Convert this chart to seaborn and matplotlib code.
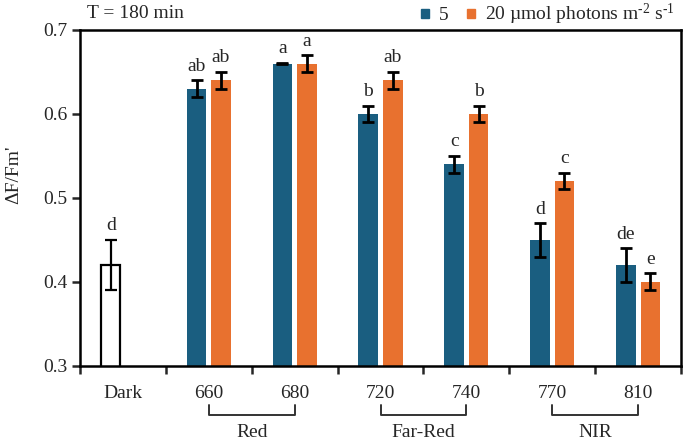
import matplotlib
matplotlib.use("Agg")
import matplotlib.pyplot as plt
import matplotlib.patches as mpatches
import matplotlib.transforms as mtransforms
import seaborn as sns
import pandas as pd
import numpy as np

# ---- data ----
categories = ["Dark", "660", "680", "720", "740", "770", "810"]
dark_value = 0.42
dark_err = 0.03
dark_letter = "d"
low_values = [0.63, 0.66, 0.60, 0.54, 0.45, 0.42]     # 5 µmol
low_errs = [0.01, 0.001, 0.01, 0.01, 0.02, 0.02]
low_letters = ["ab", "a", "b", "c", "d", "de"]
high_values = [0.64, 0.66, 0.64, 0.60, 0.52, 0.40]    # 20 µmol
high_errs = [0.01, 0.01, 0.01, 0.01, 0.01, 0.01]
high_letters = ["ab", "a", "ab", "b", "c", "e"]
hue_levels = ["5", "20"]
groups = [("Red", "660", "680"), ("Far-Red", "720", "740"), ("NIR", "770", "810")]

rows = [("Dark", "5", dark_value, dark_err, dark_letter)]
for c, v, e, l in zip(categories[1:], low_values, low_errs, low_letters):
    rows.append((c, "5", v, e, l))
for c, v, e, l in zip(categories[1:], high_values, high_errs, high_letters):
    rows.append((c, "20", v, e, l))
df = pd.DataFrame(rows, columns=["cat", "level", "value", "err", "letter"])

# ---- style ----
sns.set_style("white")
plt.rcParams["font.family"] = ["Liberation Serif", "DejaVu Serif"]
plt.rcParams["mathtext.fontset"] = "custom"
plt.rcParams["mathtext.rm"] = "Liberation Serif"
plt.rcParams["mathtext.it"] = "Liberation Serif:italic"
plt.rcParams["mathtext.default"] = "regular"
FS = 14

blue = "#1a5e80"
orange = "#e8712f"

fig = plt.figure(figsize=(6.85, 4.45), dpi=100)
ax = fig.add_axes([0.1168, 0.178, 0.8774, 0.7546])

sns.barplot(data=df, x="cat", y="value", hue="level", order=categories,
            hue_order=hue_levels, palette=[blue, orange], width=0.57, gap=0.2,
            errorbar=None, legend=False, ax=ax, edgecolor="none", saturation=1)

ax.set_ylim(0.3, 0.7)
ax.set_xlim(-0.5, len(categories) - 0.5)

# error bars and letters from drawn bars
for cont, lvl in zip(ax.containers, hue_levels):
    sub = df[df.level == lvl].set_index("cat")
    present = [c for c in categories if c in sub.index]
    for patch, c in zip(cont.patches, present):
        xc = patch.get_x() + patch.get_width() / 2
        v = sub.loc[c, "value"]
        e = sub.loc[c, "err"]
        if c == "Dark":
            patch.set_facecolor("white")
            patch.set_edgecolor("black")
            patch.set_linewidth(1.6)
            lw = 1.6
        else:
            lw = 2.0
        ax.errorbar(xc, v, yerr=e, fmt="none", ecolor="black", elinewidth=lw,
                    capsize=4.5, capthick=lw, zorder=5)
        ax.annotate(sub.loc[c, "letter"], (xc, v + e), xytext=(0, 4),
                    textcoords="offset points", ha="center", va="bottom",
                    fontsize=FS)

# axes styling
for s in ax.spines.values():
    s.set_visible(True)
    s.set_color("black")
    s.set_linewidth(1.8)

ax.set_yticks([0.3, 0.4, 0.5, 0.6, 0.7])
ax.set_yticklabels(["0.3", "0.4", "0.5", "0.6", "0.7"], fontsize=FS)
ax.tick_params(axis="y", direction="out", length=6, width=1.8, left=True, pad=3)
ax.set_xticks(range(len(categories)))
ax.set_xticklabels(categories, fontsize=FS)
ax.tick_params(axis="x", which="major", length=0, pad=14)
ax.set_xticks(np.arange(-0.5, len(categories) - 0.4, 1.0), minor=True)
ax.tick_params(axis="x", which="minor", direction="out", length=6, width=1.8,
               bottom=True)
ax.set_xlabel("")
ax.set_ylabel("ΔF/Fm'", fontsize=FS)
ax.yaxis.set_label_coords(-0.096, 0.568)

# group brackets
trans = mtransforms.blended_transform_factory(ax.transData, ax.transAxes)
for name, a, b in groups:
    xa = categories.index(a)
    xb = categories.index(b)
    ax.plot([xa, xa, xb, xb], [-0.118, -0.148, -0.148, -0.118], color="#333333",
            lw=1.4, transform=trans, clip_on=False)
    ax.text((xa + xb) / 2, -0.20, name, transform=trans, ha="center",
            va="center", fontsize=FS)

# title and legend
fig.text(0.127, 0.97, "T = 180 min", fontsize=FS, ha="left", va="center")
handles = [mpatches.Patch(color=blue), mpatches.Patch(color=orange)]
labels = ["5", "20 µmol photons m$^{\u20102}$ s$^{\u20101}$"]
fig.legend(handles, labels, loc="center right", bbox_to_anchor=(0.985, 0.967),
           ncol=2, frameon=False, fontsize=FS, handlelength=0.4,
           handleheight=0.4, handletextpad=0.5, columnspacing=1.0,
           borderaxespad=0.0, borderpad=0.0)

fig.savefig("out.png", dpi=100)
